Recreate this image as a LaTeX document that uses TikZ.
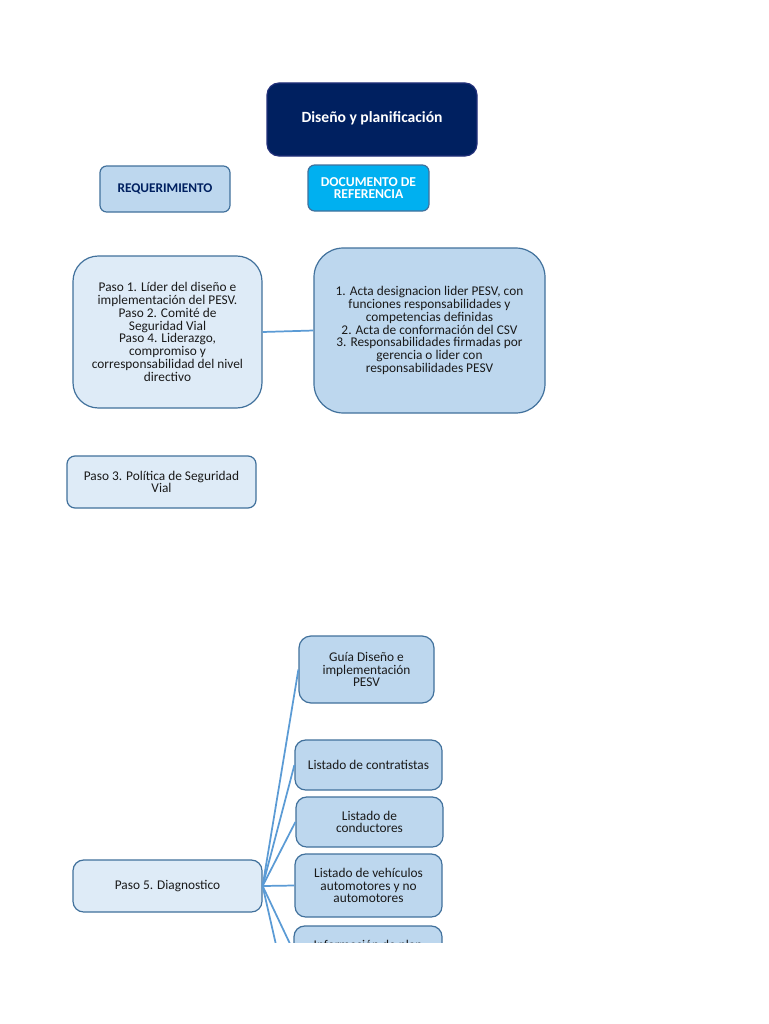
\documentclass[tikz,border=0pt]{standalone}
\usepackage{fontspec}
\setmainfont{Carlito}
\definecolor{navy}{HTML}{002060}
\definecolor{navyb}{HTML}{22307A}
\definecolor{cyanf}{HTML}{00B0F0}
\definecolor{lightf}{HTML}{BDD7EE}
\definecolor{palef}{HTML}{DEEBF7}
\definecolor{bordc}{HTML}{41719C}
\definecolor{connc}{HTML}{5B9BD5}
\definecolor{txt}{HTML}{1A1A1A}
\tikzset{
  box/.style={draw=bordc, line width=0.9pt, rounded corners=#1, align=center,
    inner sep=2pt, text=txt, font=\fontsize{10}{9.6}\selectfont},
  box/.default=6pt,
  conn/.style={draw=connc, line width=1.3pt},
}
\begin{document}
\begin{tikzpicture}[x=0.75pt,y=-0.75pt]
\useasboundingbox[fill=white] (0,0) rectangle (768,1024);
\begin{scope}
\clip (0,0) rectangle (768,942);
% header
\node[box=9pt, fill=navy, draw=navyb, text=white, minimum width=157.5pt, minimum height=54.75pt,
  font=\fontsize{11.7}{13}\selectfont\bfseries] (title) at (372,119.5)
  {\raisebox{-2pt}[0pt][0pt]{Diseño y planificación}};
\node[box=5pt, fill=lightf, text=navy, minimum width=97.5pt, minimum height=34.5pt,
  font=\fontsize{10}{10}\selectfont\bfseries] (req) at (165,189) {REQUERIMIENTO};
\node[box=5pt, fill=cyanf, text=white, minimum width=90.75pt, minimum height=34.5pt,
  font=\fontsize{10.2}{9}\selectfont\bfseries] (doc) at (368.5,188) {DOCUMENTO DE\\REFERENCIA};
% pasos 1,2,4
\node[box=19pt, fill=palef, minimum width=141.75pt, minimum height=114pt] (p1) at (167.5,332)
  {Paso 1. Líder del diseño e\\implementación del PESV.\\Paso 2. Comité de\\Seguridad Vial\\Paso 4. Liderazgo,\\compromiso y\\corresponsabilidad del nivel\\directivo};
\node[box=22pt, fill=lightf, minimum width=173.25pt, minimum height=123.75pt] (acta) at (429.5,330.5)
  {1. Acta designacion lider PESV, con\\funciones responsabilidades y\\competencias definidas\\2. Acta de conformación del CSV\\3. Responsabilidades firmadas por\\gerencia o lider con\\responsabilidades PESV};
\draw[conn] (p1.east) -- (acta.west);
% paso 3
\node[box=6pt, fill=palef, minimum width=141.75pt, minimum height=39pt] (p3) at (161.5,482)
  {Paso 3. Política de Seguridad\\Vial};
% paso 5
\node[box=8pt, fill=palef, minimum width=141.75pt, minimum height=39pt] (p5) at (167.5,886)
  {Paso 5. Diagnostico};
\node[box=9pt, fill=lightf, minimum width=101.25pt, minimum height=50.25pt] (guia) at (366.5,669.5)
  {Guía Diseño e\\implementación\\PESV};
\node[box=8pt, fill=lightf, minimum width=110.25pt, minimum height=37.5pt] (contr) at (368.5,765)
  {Listado de contratistas};
\node[box=8pt, fill=lightf, minimum width=110.25pt, minimum height=37.5pt] (cond) at (369.5,822)
  {Listado de\\conductores};
\node[box=8pt, fill=lightf, minimum width=110.25pt, minimum height=47.25pt] (veh) at (368.5,885.5)
  {Listado de vehículos\\automotores y no\\automotores};
\node[box=8pt, fill=lightf, minimum width=111pt, minimum height=37.5pt] (info) at (368,951)
  {Información de plan\\\mbox{}};
\coordinate (next) at (295,1028);
\foreach \t in {guia,contr,cond,veh,info,next}
  \draw[conn] (p5.east) -- (\t.west);
\end{scope}
\end{tikzpicture}
\end{document}
